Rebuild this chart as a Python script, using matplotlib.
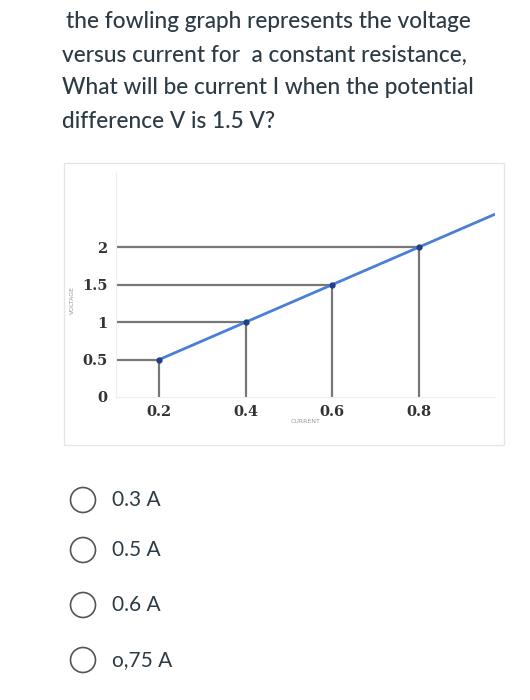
import matplotlib
matplotlib.use("Agg")
import matplotlib.pyplot as plt
from matplotlib.patches import Ellipse, Rectangle

current = [0.2, 0.4, 0.6, 0.8]
voltage = [0.5, 1.0, 1.5, 2.0]
line_x = [0.2, 0.976]
line_y = [0.5, 2.44]
xticks = [0.2, 0.4, 0.6, 0.8]
yticks = [0, 0.5, 1, 1.5, 2]
ytick_labels = ["0", "0.5", "1", "1.5", "2"]
question = ["the fowling graph represents the voltage",
            "versus current for  a constant resistance,",
            "What will be current I when the potential",
            "difference V is 1.5 V?"]
options = ["0.3 A", "0.5 A", "0.6 A", "o,75 A"]

W, H = 530, 700
fig = plt.figure(figsize=(W/100, H/100), dpi=100)
fig.patch.set_facecolor("white")

def fx(px): return px / W
def fy(py): return 1 - py / H

q_x = [66, 62, 62, 62]
for i, t in enumerate(question):
    fig.text(fx(q_x[i]), fy(22 + 33 * i), t, fontsize=16.3, family="Lato",
             fontweight="medium", color="#2d3b45", va="center", ha="left")

fig.patches.append(Rectangle((fx(64), fy(445)), fx(440), fy(163) - fy(445),
                             transform=fig.transFigure, fill=False,
                             edgecolor="#e6e6e6", lw=1))

ax = fig.add_axes([fx(116), fy(397), fx(495) - fx(116), fy(173) - fy(397)])
ax.set_xlim(0.1, 0.976)
ax.set_ylim(0, 2.99)
for s in ["top", "right"]:
    ax.spines[s].set_visible(False)
for s in ["left", "bottom"]:
    ax.spines[s].set_color("#eeeeee")
for xv, yv in zip(current, voltage):
    ax.plot([0.1, xv], [yv, yv], color="#777777", lw=1.6, zorder=1)
    ax.plot([xv, xv], [0, yv], color="#777777", lw=1.6, zorder=1)
ax.plot(line_x, line_y, color="#4a7fd6", lw=2, zorder=2)
ax.plot(current, voltage, "o", color="#1f3f8a", ms=3.5, zorder=3)
ax.set_xticks(xticks)
ax.set_xticklabels([str(v) for v in xticks], family="DejaVu Serif",
                   fontsize=10.5, fontweight="bold", color="#333333")
ax.set_yticks(yticks)
ax.set_yticklabels(ytick_labels, family="DejaVu Serif", fontsize=10.5,
                   fontweight="bold", color="#333333")
ax.tick_params(length=0, pad=6)
ax.set_xlabel("CURRENT", fontsize=4.5, color="#999999", labelpad=0)
fig.text(fx(72), fy(300), "VOLTAGE", fontsize=4.5, color="#999999",
         rotation=90, ha="center", va="center")

opt_y = [500, 550, 605, 660]
for t, y in zip(options, opt_y):
    fig.patches.append(Ellipse((fx(83), fy(y)), 25 / W, 25 / H,
                               transform=fig.transFigure,
                               fill=False, edgecolor="#555555", lw=1.2))
    fig.text(fx(112), fy(y), t, fontsize=15, family="Lato", color="#2d3b45",
             va="center", ha="left")

fig.savefig("out.png", dpi=100)
